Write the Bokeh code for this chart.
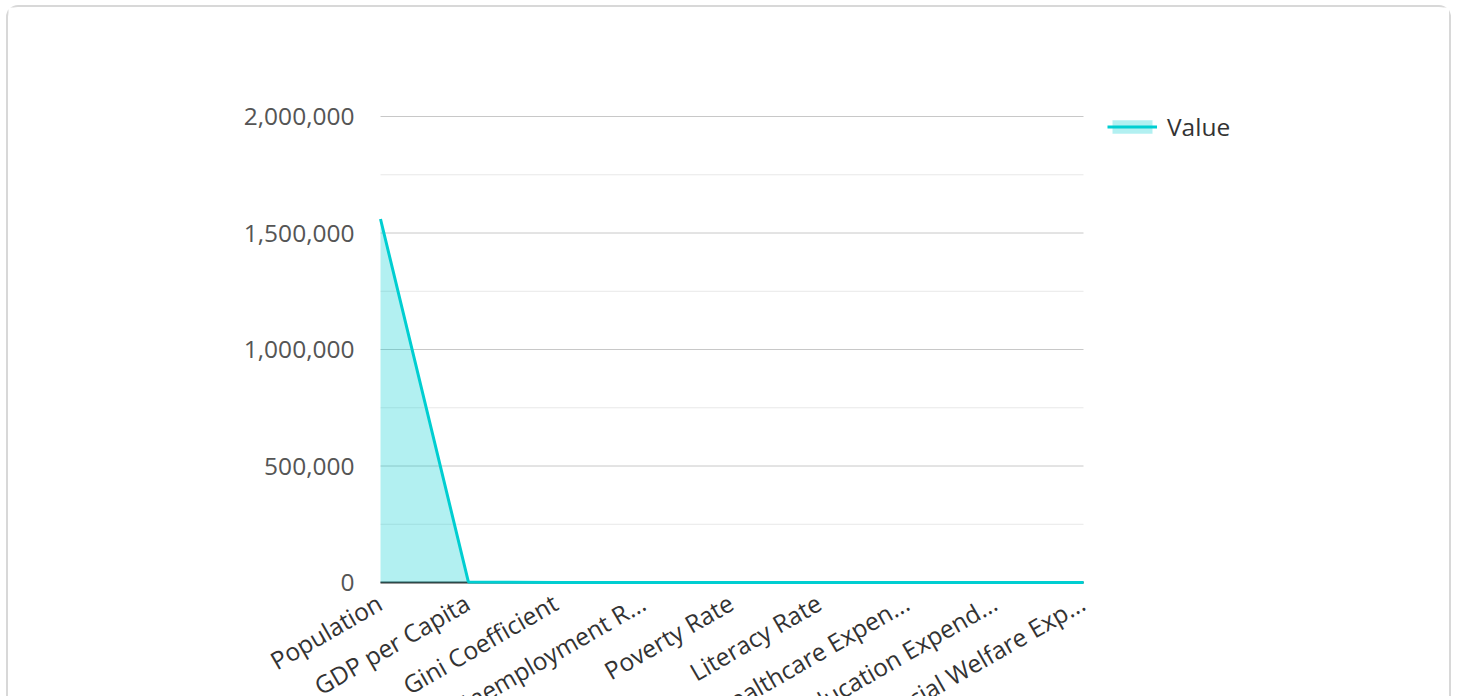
from bokeh.plotting import figure
from bokeh.models import ColumnDataSource, Range1d, Legend, LegendItem
from bokeh.core.properties import value
from bokeh.embed import file_html
from bokeh.resources import INLINE

categories = ["Population", "GDP per Capita", "Gini Coefficient", "Unemployment R...",
              "Poverty Rate", "Literacy Rate", "Healthcare Expen...", "Education Expend...",
              "Social Welfare Exp..."]
values = [1560000, 2500, 0.35, 5.2, 12.5, 95, 4.5, 3.8, 6.1]
y_ticks = [0, 500000, 1000000, 1500000, 2000000]
y_minor = [250000, 750000, 1250000, 1750000]

FONT = "Open Sans"
TEAL = "#00CED1"

n = len(categories)
idx = list(range(n))
src = ColumnDataSource(dict(x=idx, y=values, zero=[0] * n, cat=categories))

# page geometry (pixels) of the plotting area and canvas
CAN_L, CAN_T, CAN_W, CAN_H = 8, 7, 1445, 691
PA_L, PA_R, PA_T, PA_B = 380, 1083, 116, 582
y_top = y_ticks[-1]
xppu = (PA_R - PA_L) / (n - 1)
yppu = (PA_B - PA_T) / y_top
x_start = -(PA_L - CAN_L) / xppu
x_end = (n - 1) + (CAN_L + CAN_W - PA_R) / xppu
y_end = y_top + (PA_T - CAN_T) / yppu
y_start = -(CAN_T + CAN_H - PA_B) / yppu

p = figure(width=CAN_W, height=CAN_H, output_backend="svg", toolbar_location=None,
           x_range=Range1d(x_start, x_end), y_range=Range1d(y_start, y_end),
           min_border=0)
p.margin = (5, 0, 0, 6)
BORDER = "2px solid #d8d8d8"
p.styles = {"border-top": BORDER, "border-left": BORDER, "border-right": BORDER,
            "border-top-left-radius": "12px", "border-top-right-radius": "12px"}
p.outline_line_color = None
p.axis.visible = False
p.grid.visible = False
p.background_fill_color = "white"
p.border_fill_color = "white"

# grid lines
p.segment(x0=[0] * len(y_minor), x1=[n - 1] * len(y_minor), y0=y_minor, y1=y_minor,
          line_color="#e8e8e8", line_width=1)
p.segment(x0=[0] * len(y_ticks), x1=[n - 1] * len(y_ticks), y0=y_ticks, y1=y_ticks,
          line_color="#c8c8c8", line_width=1)
# category axis baseline
p.segment(x0=[0], x1=[n - 1], y0=[0], y1=[0], line_color="#333333", line_width=2)

# y tick labels
p.text(x=[0] * len(y_ticks), y=y_ticks, text=[f"{t:,}" for t in y_ticks], x_offset=-26,
       text_align="right", text_baseline="middle", text_font=value(FONT),
       text_font_size="24.5px", text_color="#555555")

# category labels
p.text(x="x", y="zero", text="cat", source=src, angle=30, angle_units="deg",
       x_offset=-1, y_offset=18, text_align="right", text_baseline="middle",
       text_font=value(FONT), text_font_size="24.5px", text_color="#333333")

area = p.varea(x="x", y1="zero", y2="y", source=src, fill_color=TEAL, fill_alpha=0.3)
ln = p.line(x="x", y="y", source=src, line_color=TEAL, line_width=3)

legend = Legend(items=[LegendItem(label="Value", renderers=[area, ln])],
                location=(1099, 555), glyph_width=50, glyph_height=17, label_standoff=10,
                padding=0, margin=0, border_line_color=None, background_fill_alpha=0,
                label_text_font=FONT, label_text_font_size="24.5px", label_text_color="#333333")
p.add_layout(legend)

open("out.html", "w").write(file_html(p, INLINE))
